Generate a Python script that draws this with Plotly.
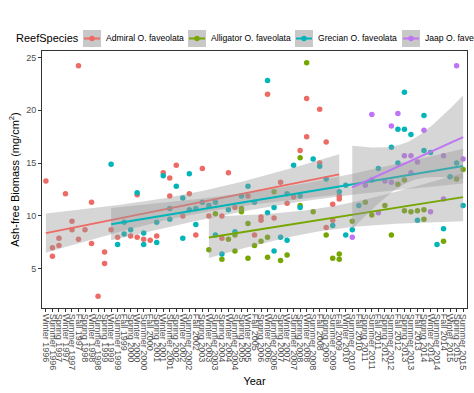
import numpy as np
import plotly.graph_objects as go

# ---------------- data ----------------
seasons = [
    "Winter 1996", "Summer 1996",
    "Spring 1997", "Winter 1997", "Summer 1997", "Fall 1997",
    "Spring 1998", "Winter 1998", "Summer 1998",
    "Spring 1999", "Winter 1999", "Summer 1999", "Fall 1999",
    "Spring 2000", "Winter 2000", "Summer 2000", "Fall 2000",
    "Spring 2001", "Winter 2001", "Summer 2001",
    "Spring 2002", "Winter 2002", "Summer 2002", "Fall 2002",
    "Spring 2003", "Winter 2003", "Summer 2003",
    "Spring 2004", "Winter 2004", "Summer 2004",
    "Spring 2005", "Winter 2005", "Fall 2005",
    "Spring 2006", "Winter 2006", "Summer 2006",
    "Spring 2007", "Winter 2007", "Summer 2007",
    "Spring 2008", "Winter 2008", "Summer 2008", "Fall 2008",
    "Spring 2009", "Summer 2009", "Fall 2009",
    "Winter 2010", "Summer 2010", "Fall 2010",
    "Spring 2011", "Summer 2011", "Fall 2011",
    "Spring 2012", "Summer 2012", "Fall 2012",
    "Spring 2013", "Summer 2013", "Fall 2013",
    "Spring 2014", "Winter 2014", "Summer 2014", "Fall 2014",
    "Winter 2015", "Spring 2015", "Summer 2015",
]

species = ["Admiral O. faveolata", "Alligator O. faveolata",
           "Grecian O. faveolata", "Jaap O. faveolata"]

# season number (1-based position in `seasons`) and biomass values
admiral_season_no = [1, 2, 2, 3, 3, 4, 5, 5, 6, 6, 7, 8, 8, 9, 10, 10, 11, 12, 14, 15,
                     15, 16, 17, 18, 19, 20, 20, 21, 22, 23, 24, 25, 26, 28, 28, 29, 30, 32, 33, 34,
                     34, 35, 36, 37, 38, 39, 40, 41, 41, 43, 43, 44, 44, 45, 45, 46, 46]
admiral_biomass = [13.3, 7.0, 6.2, 7.9, 7.2, 12.1, 9.5, 8.7, 24.2, 7.8, 8.7, 11.3, 7.4, 2.4, 6.6, 5.5, 8.7, 8.0, 8.1, 8.0,
                   12.0, 7.8, 7.7, 8.1, 14.1, 13.6, 11.9, 14.8, 10.0, 12.1, 8.2, 14.5, 10.0, 10.0, 7.9, 14.1, 10.8, 11.9, 8.2, 9.9,
                   9.6, 21.5, 9.8, 13.2, 11.2, 11.8, 16.2, 21.1, 17.5, 20.1, 15.0, 17.0, 8.9, 11.1, 9.6, 11.9, 11.6]

alligator_season_no = [26, 27, 28, 29, 30, 30, 31, 31, 32, 32, 33, 34, 35, 35, 36, 37, 38, 40, 40, 41,
                       42, 44, 45, 46, 46, 48, 50, 51, 53, 54, 55, 56, 56, 57, 58, 59, 59, 62, 64, 65]
alligator_biomass = [6.8, 10.2, 5.9, 7.8, 8.2, 6.7, 10.7, 10.4, 9.3, 6.0, 7.2, 7.6, 8.0, 6.1, 12.3, 5.8, 6.3, 15.5, 11.0, 24.5,
                     10.4, 8.2, 6.0, 6.4, 5.9, 9.5, 11.3, 10.1, 11.0, 8.2, 13.0, 13.4, 10.5, 10.4, 10.5, 10.6, 9.7, 7.6, 13.5, 14.4]

grecian_season_no = [11, 12, 13, 13, 14, 15, 16, 16, 18, 18, 19, 20, 20, 21, 22, 22, 23, 23, 24, 24,
                     25, 26, 27, 27, 28, 29, 30, 31, 32, 33, 35, 35, 36, 36, 37, 38, 38, 39, 40, 40,
                     42, 43, 44, 45, 46, 47, 47, 48, 49, 51, 52, 54, 55, 55, 56, 56, 57, 58, 59, 59,
                     60, 61, 62, 63, 64, 65]
grecian_biomass = [14.9, 7.3, 9.4, 8.3, 8.7, 12.2, 8.4, 7.3, 9.4, 7.5, 13.8, 10.7, 9.7, 12.8, 11.7, 7.9, 14.0, 10.6, 10.7, 9.2,
                   11.3, 11.0, 11.3, 8.2, 6.4, 10.6, 8.5, 11.9, 12.8, 11.3, 22.8, 10.3, 10.8, 6.7, 8.0, 12.1, 7.7, 14.8, 11.9, 10.8,
                   15.4, 14.7, 13.5, 9.1, 12.3, 12.9, 8.2, 8.7, 11.0, 13.4, 14.5, 16.5, 18.2, 15.0, 21.7, 18.2, 17.7, 9.6, 19.5, 16.2,
                   16.0, 7.3, 8.8, 13.7, 15.0, 11.0]

jaap_season_no = [48, 50, 51, 52, 53, 54, 54, 55, 56, 57, 57, 58, 59, 60, 62, 62, 64, 65]
jaap_biomass = [8.0, 12.9, 19.6, 10.3, 13.3, 18.5, 13.2, 19.7, 15.7, 15.7, 14.1, 15.1, 18.1, 10.4, 15.7, 11.6, 24.2, 15.4]

y_ticks = [5, 10, 15, 20, 25]

# ---------------- style ----------------
colors = ["#EE6A64", "#76A600", "#00B5BA", "#BE74F5"]
FONT = "Liberation Sans, Arial, sans-serif"
W, H = 474, 393
ML, MR, MT, MB = 42, 7, 51, 85

groups = [
    (admiral_season_no, admiral_biomass),
    (alligator_season_no, alligator_biomass),
    (grecian_season_no, grecian_biomass),
    (jaap_season_no, jaap_biomass),
]


def t_quantile(df, z=1.959963985):
    # Cornish-Fisher expansion of Student t 97.5% quantile
    g1 = (z**3 + z) / 4
    g2 = (5 * z**5 + 16 * z**3 + 3 * z) / 96
    g3 = (3 * z**7 + 19 * z**5 + 17 * z**3 - 15 * z) / 384
    return z + g1 / df + g2 / df**2 + g3 / df**3


def lm_band(x, y, n=80):
    x = np.asarray(x, float)
    y = np.asarray(y, float)
    b1, b0 = np.polyfit(x, y, 1)
    xs = np.linspace(x.min(), x.max(), n)
    fit = b0 + b1 * xs
    df = len(x) - 2
    s = np.sqrt(np.sum((y - (b0 + b1 * x)) ** 2) / df)
    se = s * np.sqrt(1 / len(x) + (xs - x.mean()) ** 2 / np.sum((x - x.mean()) ** 2))
    t = t_quantile(df)
    return xs, fit, fit - t * se, fit + t * se


fig = go.Figure()

# points first
for (sx, sy), name, col in zip(groups, species, colors):
    fig.add_trace(go.Scatter(
        x=sx, y=sy, mode="markers", name=name, showlegend=False,
        marker=dict(color=col, size=5.5, line=dict(width=0)),
    ))

# smooth (lm) ribbons and lines on top
for (sx, sy), name, col in zip(groups, species, colors):
    xs, fit, lo, hi = lm_band(sx, sy)
    fig.add_trace(go.Scatter(
        x=np.concatenate([xs, xs[::-1]]), y=np.concatenate([hi, lo[::-1]]),
        mode="lines", fill="toself", fillcolor="rgba(153,153,153,0.4)",
        line=dict(width=0), showlegend=False, hoverinfo="skip",
    ))
    fig.add_trace(go.Scatter(
        x=xs, y=fit, mode="lines", line=dict(color=col, width=2),
        showlegend=False, hoverinfo="skip",
    ))

# ---------------- manual legend (top, overflowing to the right) ----------------
pw, ph = W - ML - MR, H - MT - MB


def px_x(px):
    return (px - ML) / pw


def px_y(py):
    return (H - MB - py) / ph


annotations = [dict(
    text="ReefSpecies", x=px_x(14), y=px_y(38.5), xref="paper", yref="paper",
    xanchor="left", yanchor="middle", showarrow=False,
    font=dict(family=FONT, size=11, color="black"),
)]
shapes = []
key_left_px = [83, 188, 295, 402]
for kx, name, col in zip(key_left_px, species, colors):
    shapes.append(dict(type="rect", xref="paper", yref="paper",
                       x0=px_x(kx), x1=px_x(kx + 18), y0=px_y(47), y1=px_y(30),
                       fillcolor="rgb(200,200,200)", line=dict(width=0), layer="above"))
    shapes.append(dict(type="line", xref="paper", yref="paper",
                       x0=px_x(kx + 1), x1=px_x(kx + 17), y0=px_y(38.5), y1=px_y(38.5),
                       line=dict(color=col, width=2), layer="above"))
    r = 2.7
    shapes.append(dict(type="circle", xref="paper", yref="paper",
                       x0=px_x(kx + 9 - r), x1=px_x(kx + 9 + r),
                       y0=px_y(38.5 + r), y1=px_y(38.5 - r),
                       fillcolor=col, line=dict(width=0), layer="above"))
    annotations.append(dict(
        text=name, x=px_x(kx + 21), y=px_y(38.5), xref="paper", yref="paper",
        xanchor="left", yanchor="middle", showarrow=False,
        font=dict(family=FONT, size=8.6, color="black"),
    ))

axis_common = dict(
    showgrid=False, zeroline=False, showline=True, mirror=True,
    linecolor="#333333", linewidth=1.1, ticks="outside", ticklen=3,
    tickcolor="#333333", tickwidth=1,
    tickfont=dict(family=FONT, size=9, color="#4d4d4d"),
)

fig.update_layout(
    width=W, height=H,
    margin=dict(l=ML, r=MR, t=MT, b=MB),
    plot_bgcolor="white", paper_bgcolor="white",
    font=dict(family=FONT, color="black"),
    showlegend=False,
    xaxis=dict(
        range=[0.4, len(seasons) + 0.6],
        tickmode="array", tickvals=list(range(1, len(seasons) + 1)), ticktext=seasons,
        tickangle=90,
        title=dict(text="Year", font=dict(family=FONT, size=11, color="black"), standoff=7),
        **axis_common,
    ),
    yaxis=dict(
        range=[1.3, 25.6], tickmode="array", tickvals=y_ticks,
        title=dict(text="Ash-free Biomass (mg/cm<sup>2</sup>)",
                   font=dict(family=FONT, size=11, color="black"), standoff=4),
        **axis_common,
    ),
    annotations=annotations,
    shapes=shapes,
)

fig.write_html("out.html", config={"displayModeBar": False},
               post_script="document.body.style.margin='0';")
